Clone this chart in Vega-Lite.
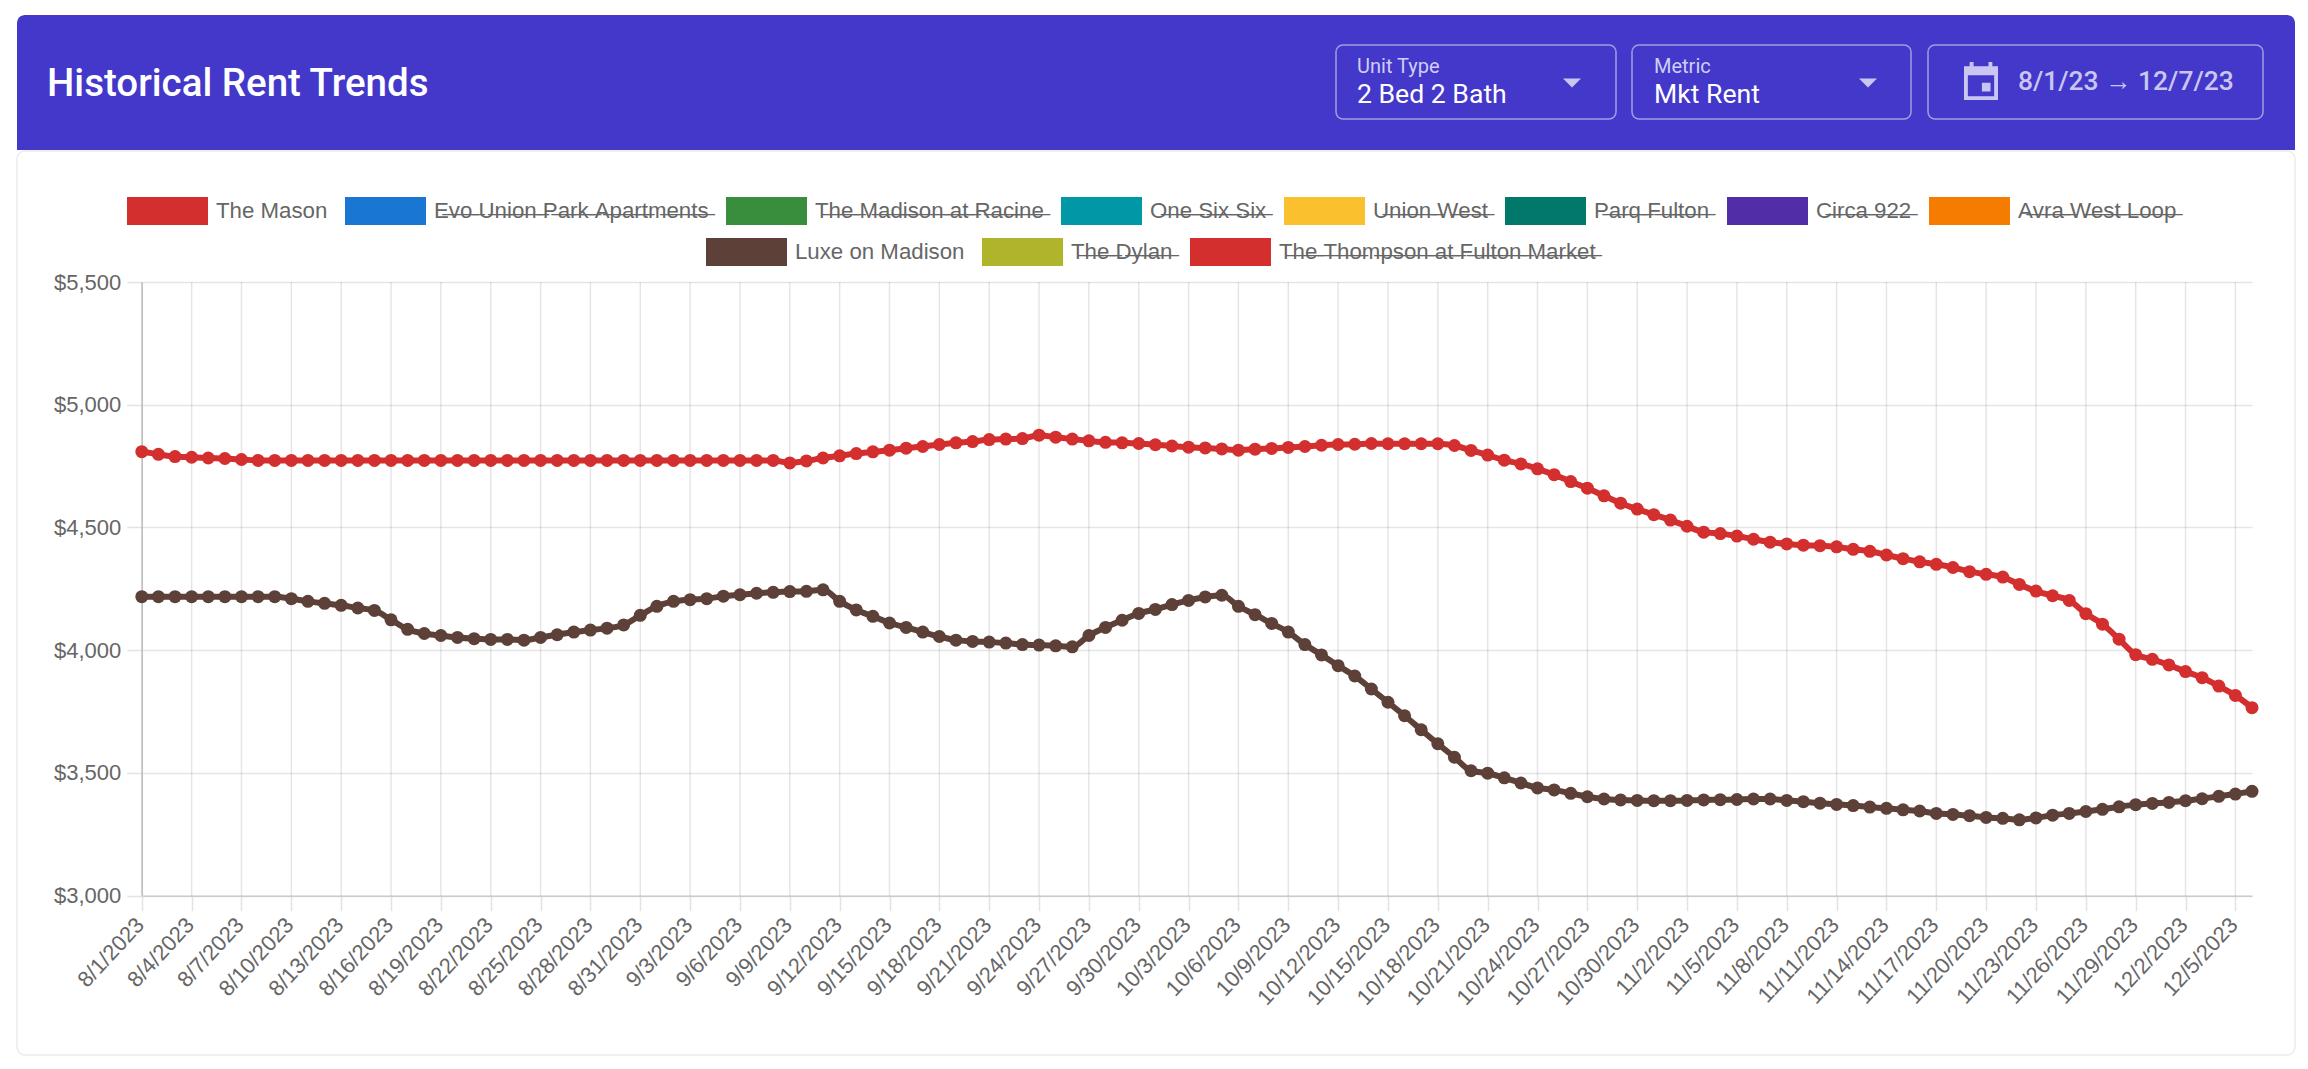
{"$schema":"https://vega.github.io/schema/vega-lite/v6.json","background":"#ffffff","padding":{"left":16,"top":15,"right":14,"bottom":15},"spacing":0,"config":{"view":{"stroke":null},"font":"Liberation Sans"},
"datasets":{"rents":[
{"date":"8/1/2023","mason":4809,"luxe":4218},{"date":"8/2/2023","mason":4798,"luxe":4218},{"date":"8/3/2023","mason":4789,"luxe":4218},{"date":"8/4/2023","mason":4786,"luxe":4218},{"date":"8/5/2023","mason":4783,"luxe":4218},{"date":"8/6/2023","mason":4781,"luxe":4218},{"date":"8/7/2023","mason":4777,"luxe":4218},{"date":"8/8/2023","mason":4773,"luxe":4218},{"date":"8/9/2023","mason":4773,"luxe":4218},{"date":"8/10/2023","mason":4773,"luxe":4210},
{"date":"8/11/2023","mason":4773,"luxe":4199},{"date":"8/12/2023","mason":4773,"luxe":4191},{"date":"8/13/2023","mason":4773,"luxe":4183},{"date":"8/14/2023","mason":4773,"luxe":4172},{"date":"8/15/2023","mason":4773,"luxe":4162},{"date":"8/16/2023","mason":4773,"luxe":4124},{"date":"8/17/2023","mason":4773,"luxe":4085},{"date":"8/18/2023","mason":4773,"luxe":4068},{"date":"8/19/2023","mason":4773,"luxe":4060},{"date":"8/20/2023","mason":4773,"luxe":4052},
{"date":"8/21/2023","mason":4773,"luxe":4047},{"date":"8/22/2023","mason":4773,"luxe":4044},{"date":"8/23/2023","mason":4773,"luxe":4044},{"date":"8/24/2023","mason":4773,"luxe":4041},{"date":"8/25/2023","mason":4773,"luxe":4052},{"date":"8/26/2023","mason":4773,"luxe":4063},{"date":"8/27/2023","mason":4773,"luxe":4074},{"date":"8/28/2023","mason":4773,"luxe":4082},{"date":"8/29/2023","mason":4773,"luxe":4090},{"date":"8/30/2023","mason":4773,"luxe":4103},
{"date":"8/31/2023","mason":4773,"luxe":4142},{"date":"9/1/2023","mason":4773,"luxe":4179},{"date":"9/2/2023","mason":4773,"luxe":4199},{"date":"9/3/2023","mason":4773,"luxe":4206},{"date":"9/4/2023","mason":4773,"luxe":4210},{"date":"9/5/2023","mason":4773,"luxe":4220},{"date":"9/6/2023","mason":4773,"luxe":4226},{"date":"9/7/2023","mason":4773,"luxe":4232},{"date":"9/8/2023","mason":4773,"luxe":4236},{"date":"9/9/2023","mason":4763,"luxe":4239},
{"date":"9/10/2023","mason":4771,"luxe":4240},{"date":"9/11/2023","mason":4783,"luxe":4246},{"date":"9/12/2023","mason":4792,"luxe":4199},{"date":"9/13/2023","mason":4801,"luxe":4164},{"date":"9/14/2023","mason":4808,"luxe":4138},{"date":"9/15/2023","mason":4815,"luxe":4111},{"date":"9/16/2023","mason":4823,"luxe":4093},{"date":"9/17/2023","mason":4830,"luxe":4074},{"date":"9/18/2023","mason":4838,"luxe":4056},{"date":"9/19/2023","mason":4845,"luxe":4041},
{"date":"9/20/2023","mason":4850,"luxe":4036},{"date":"9/21/2023","mason":4858,"luxe":4033},{"date":"9/22/2023","mason":4860,"luxe":4029},{"date":"9/23/2023","mason":4862,"luxe":4023},{"date":"9/24/2023","mason":4876,"luxe":4021},{"date":"9/25/2023","mason":4868,"luxe":4018},{"date":"9/26/2023","mason":4860,"luxe":4014},{"date":"9/27/2023","mason":4853,"luxe":4060},{"date":"9/28/2023","mason":4847,"luxe":4093},{"date":"9/29/2023","mason":4845,"luxe":4122},
{"date":"9/30/2023","mason":4842,"luxe":4150},{"date":"10/1/2023","mason":4837,"luxe":4166},{"date":"10/2/2023","mason":4832,"luxe":4186},{"date":"10/3/2023","mason":4827,"luxe":4203},{"date":"10/4/2023","mason":4824,"luxe":4217},{"date":"10/5/2023","mason":4820,"luxe":4224},{"date":"10/6/2023","mason":4815,"luxe":4179},{"date":"10/7/2023","mason":4819,"luxe":4145},{"date":"10/8/2023","mason":4822,"luxe":4109},{"date":"10/9/2023","mason":4826,"luxe":4074},
{"date":"10/10/2023","mason":4830,"luxe":4023},{"date":"10/11/2023","mason":4835,"luxe":3981},{"date":"10/12/2023","mason":4838,"luxe":3937},{"date":"10/13/2023","mason":4839,"luxe":3895},{"date":"10/14/2023","mason":4842,"luxe":3842},{"date":"10/15/2023","mason":4841,"luxe":3788},{"date":"10/16/2023","mason":4841,"luxe":3733},{"date":"10/17/2023","mason":4841,"luxe":3676},{"date":"10/18/2023","mason":4841,"luxe":3619},{"date":"10/19/2023","mason":4834,"luxe":3564},
{"date":"10/20/2023","mason":4814,"luxe":3509},{"date":"10/21/2023","mason":4795,"luxe":3499},{"date":"10/22/2023","mason":4774,"luxe":3480},{"date":"10/23/2023","mason":4759,"luxe":3459},{"date":"10/24/2023","mason":4739,"luxe":3439},{"date":"10/25/2023","mason":4715,"luxe":3431},{"date":"10/26/2023","mason":4687,"luxe":3417},{"date":"10/27/2023","mason":4660,"luxe":3403},{"date":"10/28/2023","mason":4629,"luxe":3394},{"date":"10/29/2023","mason":4599,"luxe":3390},
{"date":"10/30/2023","mason":4575,"luxe":3388},{"date":"10/31/2023","mason":4552,"luxe":3387},{"date":"11/1/2023","mason":4530,"luxe":3387},{"date":"11/2/2023","mason":4505,"luxe":3388},{"date":"11/3/2023","mason":4481,"luxe":3390},{"date":"11/4/2023","mason":4475,"luxe":3391},{"date":"11/5/2023","mason":4465,"luxe":3392},{"date":"11/6/2023","mason":4452,"luxe":3394},{"date":"11/7/2023","mason":4440,"luxe":3394},{"date":"11/8/2023","mason":4433,"luxe":3388},
{"date":"11/9/2023","mason":4428,"luxe":3383},{"date":"11/10/2023","mason":4426,"luxe":3377},{"date":"11/11/2023","mason":4421,"luxe":3372},{"date":"11/12/2023","mason":4411,"luxe":3367},{"date":"11/13/2023","mason":4403,"luxe":3361},{"date":"11/14/2023","mason":4388,"luxe":3356},{"date":"11/15/2023","mason":4373,"luxe":3350},{"date":"11/16/2023","mason":4360,"luxe":3345},{"date":"11/17/2023","mason":4350,"luxe":3335},{"date":"11/18/2023","mason":4337,"luxe":3331},
{"date":"11/19/2023","mason":4320,"luxe":3326},{"date":"11/20/2023","mason":4309,"luxe":3319},{"date":"11/21/2023","mason":4298,"luxe":3315},{"date":"11/22/2023","mason":4268,"luxe":3309},{"date":"11/23/2023","mason":4241,"luxe":3317},{"date":"11/24/2023","mason":4222,"luxe":3328},{"date":"11/25/2023","mason":4203,"luxe":3335},{"date":"11/26/2023","mason":4149,"luxe":3343},{"date":"11/27/2023","mason":4106,"luxe":3352},{"date":"11/28/2023","mason":4045,"luxe":3362},
{"date":"11/29/2023","mason":3982,"luxe":3371},{"date":"11/30/2023","mason":3963,"luxe":3376},{"date":"12/1/2023","mason":3940,"luxe":3380},{"date":"12/2/2023","mason":3913,"luxe":3387},{"date":"12/3/2023","mason":3888,"luxe":3395},{"date":"12/4/2023","mason":3854,"luxe":3405},{"date":"12/5/2023","mason":3816,"luxe":3414},{"date":"12/6/2023","mason":3766,"luxe":3425}
]},
"vconcat":[
{"width":2278,"height":135,
"layer":[
{"data":{"values":[{"part":"header"}]},"mark":{"type":"rect","fill":"#4338ca","cornerRadiusTopLeft":8,"cornerRadiusTopRight":8},"encoding":{"x":{"datum":0,"type":"quantitative","scale":{"domain":[0,2278],"nice":false},"axis":null},"x2":{"datum":2278},"y":{"datum":135,"type":"quantitative","scale":{"domain":[135,0],"nice":false},"axis":null},"y2":{"datum":0}}},
{"data":{"values":[{"control":"Unit Type"}]},"mark":{"type":"rect","fill":"#4338ca","stroke":"#ffffff","strokeOpacity":0.5,"strokeWidth":1.5,"cornerRadius":7},"encoding":{"x":{"datum":1319,"type":"quantitative","scale":{"domain":[0,2278],"nice":false},"axis":null},"x2":{"datum":1599},"y":{"datum":104,"type":"quantitative","scale":{"domain":[135,0],"nice":false},"axis":null},"y2":{"datum":30}}},
{"data":{"values":[{"control":"Metric"}]},"mark":{"type":"rect","fill":"#4338ca","stroke":"#ffffff","strokeOpacity":0.5,"strokeWidth":1.5,"cornerRadius":7},"encoding":{"x":{"datum":1615,"type":"quantitative","scale":{"domain":[0,2278],"nice":false},"axis":null},"x2":{"datum":1894},"y":{"datum":104,"type":"quantitative","scale":{"domain":[135,0],"nice":false},"axis":null},"y2":{"datum":30}}},
{"data":{"values":[{"control":"Date Range"}]},"mark":{"type":"rect","fill":"#4338ca","stroke":"#ffffff","strokeOpacity":0.5,"strokeWidth":1.5,"cornerRadius":7},"encoding":{"x":{"datum":1911,"type":"quantitative","scale":{"domain":[0,2278],"nice":false},"axis":null},"x2":{"datum":2246},"y":{"datum":104,"type":"quantitative","scale":{"domain":[135,0],"nice":false},"axis":null},"y2":{"datum":30}}},
{"data":{"values":[{"label":"Historical Rent Trends"}]},"mark":{"type":"text","font":"Roboto","fontWeight":500,"fontSize":38.5,"fill":"#ffffff","align":"left","baseline":"middle"},"encoding":{"text":{"field":"label"},"x":{"datum":30,"type":"quantitative","scale":{"domain":[0,2278],"nice":false},"axis":null},"y":{"datum":69,"type":"quantitative","scale":{"domain":[135,0],"nice":false},"axis":null}}},
{"data":{"values":[{"label":"Unit Type"}]},"mark":{"type":"text","font":"Roboto","fontSize":20,"fill":"#d0cef5","align":"left","baseline":"middle"},"encoding":{"text":{"field":"label"},"x":{"datum":1340,"type":"quantitative","scale":{"domain":[0,2278],"nice":false},"axis":null},"y":{"datum":52,"type":"quantitative","scale":{"domain":[135,0],"nice":false},"axis":null}}},
{"data":{"values":[{"label":"2 Bed 2 Bath"}]},"mark":{"type":"text","font":"Roboto","fontSize":26.6,"fill":"#ffffff","align":"left","baseline":"middle"},"encoding":{"text":{"field":"label"},"x":{"datum":1340,"type":"quantitative","scale":{"domain":[0,2278],"nice":false},"axis":null},"y":{"datum":79.5,"type":"quantitative","scale":{"domain":[135,0],"nice":false},"axis":null}}},
{"data":{"values":[{"label":"Metric"}]},"mark":{"type":"text","font":"Roboto","fontSize":20,"fill":"#d0cef5","align":"left","baseline":"middle"},"encoding":{"text":{"field":"label"},"x":{"datum":1637,"type":"quantitative","scale":{"domain":[0,2278],"nice":false},"axis":null},"y":{"datum":52,"type":"quantitative","scale":{"domain":[135,0],"nice":false},"axis":null}}},
{"data":{"values":[{"label":"Mkt Rent"}]},"mark":{"type":"text","font":"Roboto","fontSize":26.6,"fill":"#ffffff","align":"left","baseline":"middle"},"encoding":{"text":{"field":"label"},"x":{"datum":1637,"type":"quantitative","scale":{"domain":[0,2278],"nice":false},"axis":null},"y":{"datum":79.5,"type":"quantitative","scale":{"domain":[135,0],"nice":false},"axis":null}}},
{"data":{"values":[{"label":"8/1/23 → 12/7/23"}]},"mark":{"type":"text","font":"Roboto","fontWeight":500,"fontSize":26.4,"fill":"#c9c7f2","align":"left","baseline":"middle"},"encoding":{"text":{"field":"label"},"x":{"datum":2001,"type":"quantitative","scale":{"domain":[0,2278],"nice":false},"axis":null},"y":{"datum":67,"type":"quantitative","scale":{"domain":[135,0],"nice":false},"axis":null}}},
{"data":{"values":[{"icon":"unit arrow"}]},"mark":{"type":"point","filled":true,"fill":"#c9c7f2","strokeWidth":0,"opacity":1,"shape":"M-1,-.5H1L0,.5Z","size":324},"encoding":{"x":{"datum":1555,"type":"quantitative","scale":{"domain":[0,2278],"nice":false},"axis":null},"y":{"datum":68,"type":"quantitative","scale":{"domain":[135,0],"nice":false},"axis":null}}},
{"data":{"values":[{"icon":"metric arrow"}]},"mark":{"type":"point","filled":true,"fill":"#c9c7f2","strokeWidth":0,"opacity":1,"shape":"M-1,-.5H1L0,.5Z","size":324},"encoding":{"x":{"datum":1851,"type":"quantitative","scale":{"domain":[0,2278],"nice":false},"axis":null},"y":{"datum":68,"type":"quantitative","scale":{"domain":[135,0],"nice":false},"axis":null}}},
{"data":{"values":[{"icon":"calendar"}]},"mark":{"type":"point","filled":true,"fill":"#c9c7f2","strokeWidth":0,"opacity":1,"shape":"M-.75,-.65H-.5V-.84H-.33V-.65H.33V-.84H.5V-.65H.75V.84H-.75ZM-.58,-.25V.67H.58V-.25ZM.04,.08H.42V.46H.04Z","size":2055},"encoding":{"x":{"datum":1964,"type":"quantitative","scale":{"domain":[0,2278],"nice":false},"axis":null},"y":{"datum":66,"type":"quantitative","scale":{"domain":[135,0],"nice":false},"axis":null}}}
]},
{"width":2278,"height":904,"view":{"stroke":"#ececec","strokeWidth":1.5,"cornerRadius":8},
"data":{"name":"rents"},
"encoding":{
"x":{"field":"date","type":"ordinal","title":null,"scale":{"type":"point","padding":0,"range":[124.8,2235],"domain":["8/1/2023","8/2/2023","8/3/2023","8/4/2023","8/5/2023","8/6/2023","8/7/2023","8/8/2023","8/9/2023","8/10/2023","8/11/2023","8/12/2023","8/13/2023","8/14/2023","8/15/2023","8/16/2023","8/17/2023","8/18/2023","8/19/2023","8/20/2023","8/21/2023","8/22/2023","8/23/2023","8/24/2023","8/25/2023","8/26/2023","8/27/2023","8/28/2023","8/29/2023","8/30/2023","8/31/2023","9/1/2023","9/2/2023","9/3/2023","9/4/2023","9/5/2023","9/6/2023","9/7/2023","9/8/2023","9/9/2023","9/10/2023","9/11/2023","9/12/2023","9/13/2023","9/14/2023","9/15/2023","9/16/2023","9/17/2023","9/18/2023","9/19/2023","9/20/2023","9/21/2023","9/22/2023","9/23/2023","9/24/2023","9/25/2023","9/26/2023","9/27/2023","9/28/2023","9/29/2023","9/30/2023","10/1/2023","10/2/2023","10/3/2023","10/4/2023","10/5/2023","10/6/2023","10/7/2023","10/8/2023","10/9/2023","10/10/2023","10/11/2023","10/12/2023","10/13/2023","10/14/2023","10/15/2023","10/16/2023","10/17/2023","10/18/2023","10/19/2023","10/20/2023","10/21/2023","10/22/2023","10/23/2023","10/24/2023","10/25/2023","10/26/2023","10/27/2023","10/28/2023","10/29/2023","10/30/2023","10/31/2023","11/1/2023","11/2/2023","11/3/2023","11/4/2023","11/5/2023","11/6/2023","11/7/2023","11/8/2023","11/9/2023","11/10/2023","11/11/2023","11/12/2023","11/13/2023","11/14/2023","11/15/2023","11/16/2023","11/17/2023","11/18/2023","11/19/2023","11/20/2023","11/21/2023","11/22/2023","11/23/2023","11/24/2023","11/25/2023","11/26/2023","11/27/2023","11/28/2023","11/29/2023","11/30/2023","12/1/2023","12/2/2023","12/3/2023","12/4/2023","12/5/2023","12/6/2023"]},
"axis":{"offset":-159.3,"values":["8/1/2023","8/4/2023","8/7/2023","8/10/2023","8/13/2023","8/16/2023","8/19/2023","8/22/2023","8/25/2023","8/28/2023","8/31/2023","9/3/2023","9/6/2023","9/9/2023","9/12/2023","9/15/2023","9/18/2023","9/21/2023","9/24/2023","9/27/2023","9/30/2023","10/3/2023","10/6/2023","10/9/2023","10/12/2023","10/15/2023","10/18/2023","10/21/2023","10/24/2023","10/27/2023","10/30/2023","11/2/2023","11/5/2023","11/8/2023","11/11/2023","11/14/2023","11/17/2023","11/20/2023","11/23/2023","11/26/2023","11/29/2023","12/2/2023","12/5/2023"],"labelAngle":-47,"labelAlign":"right","labelBaseline":"middle","labelFont":"Liberation Sans","labelFontSize":22,"labelColor":"#666666","labelPadding":10,"labelOffset":-2,"labelOverlap":false,"labelBound":false,"labelFlush":false,"tickSize":15,"tickColor":"#e3e3e3","tickWidth":1.5,"grid":false,"domainColor":"#cccccc","domainWidth":1.5}},
"y":{"type":"quantitative","title":null,"scale":{"domain":[3000,5500],"range":[744.7,131],"nice":false,"zero":false},
"axis":{"offset":-124.8,"values":[3000,3500,4000,4500,5000,5500],"format":"$,.0f","labelFont":"Liberation Sans","labelFontSize":22,"labelColor":"#666666","labelPadding":6,"tickSize":15,"tickColor":"#e3e3e3","tickWidth":1.5,"grid":true,"gridColor":"#000000","gridOpacity":0.1,"gridWidth":1.5,"domainColor":"#cccccc","domainWidth":1.5}}
},
"resolve":{"scale":{"color":"independent"},"legend":{"color":"independent"}},
"layer":[
{"transform":[{"filter":{"field":"date","oneOf":["8/1/2023","8/4/2023","8/7/2023","8/10/2023","8/13/2023","8/16/2023","8/19/2023","8/22/2023","8/25/2023","8/28/2023","8/31/2023","9/3/2023","9/6/2023","9/9/2023","9/12/2023","9/15/2023","9/18/2023","9/21/2023","9/24/2023","9/27/2023","9/30/2023","10/3/2023","10/6/2023","10/9/2023","10/12/2023","10/15/2023","10/18/2023","10/21/2023","10/24/2023","10/27/2023","10/30/2023","11/2/2023","11/5/2023","11/8/2023","11/11/2023","11/14/2023","11/17/2023","11/20/2023","11/23/2023","11/26/2023","11/29/2023","12/2/2023","12/5/2023"]}}],"mark":{"type":"rule","stroke":"#000000","strokeOpacity":0.1,"strokeWidth":1.5},"encoding":{"y":{"datum":3000,"type":"quantitative"},"y2":{"datum":5500}}},
{"mark":{"type":"line","stroke":"#d32f2f","strokeWidth":6,"interpolate":"monotone"},"encoding":{"y":{"field":"mason","type":"quantitative"}}},
{"transform":[{"calculate":"'The Mason'","as":"series"}],"mark":{"type":"point","filled":true,"opacity":1,"size":169},"encoding":{"y":{"field":"mason","type":"quantitative"},"color":{"field":"series","type":"nominal","scale":{"domain":["The Mason","Evo Union Park Apartments","The Madison at Racine","One Six Six","Union West","Parq Fulton","Circa 922","Avra West Loop"],"range":["#d32f2f","#1976d2","#388e3c","#0097a7","#fbc02d","#00796b","#512da8","#f57c00"]},"legend":{"title":null,"orient":"none","legendX":110,"legendY":19.5,"direction":"horizontal","columns":8,"gridAlign":"none","columnPadding":17,"padding":0,"symbolType":"M-1,-.345H1V.345H-1Z","symbolSize":6561,"symbolStrokeWidth":0,"symbolOpacity":1,"labelOffset":8,"labelFont":"Liberation Sans","labelFontSize":22.25,"labelColor":"#666666","labelLimit":500,"labelExpr":"datum.label === 'The Mason' ? datum.label : replace(datum.label, regexp('(.)','g'), '$1\u0336')"}}}},
{"mark":{"type":"line","stroke":"#5d4037","strokeWidth":6,"interpolate":"monotone"},"encoding":{"y":{"field":"luxe","type":"quantitative"}}},
{"transform":[{"calculate":"'Luxe on Madison'","as":"series"}],"mark":{"type":"point","filled":true,"opacity":1,"size":169},"encoding":{"y":{"field":"luxe","type":"quantitative"},"color":{"field":"series","type":"nominal","scale":{"domain":["Luxe on Madison","The Dylan","The Thompson at Fulton Market"],"range":["#5d4037","#afb42b","#d32f2f"]},"legend":{"title":null,"orient":"none","legendX":689,"legendY":60.5,"direction":"horizontal","columns":3,"gridAlign":"none","columnPadding":17,"padding":0,"symbolType":"M-1,-.345H1V.345H-1Z","symbolSize":6561,"symbolStrokeWidth":0,"symbolOpacity":1,"labelOffset":8,"labelFont":"Liberation Sans","labelFontSize":22.25,"labelColor":"#666666","labelLimit":500,"labelExpr":"datum.label === 'Luxe on Madison' ? datum.label : replace(datum.label, regexp('(.)','g'), '$1\u0336')"}}}}
]}
]}
